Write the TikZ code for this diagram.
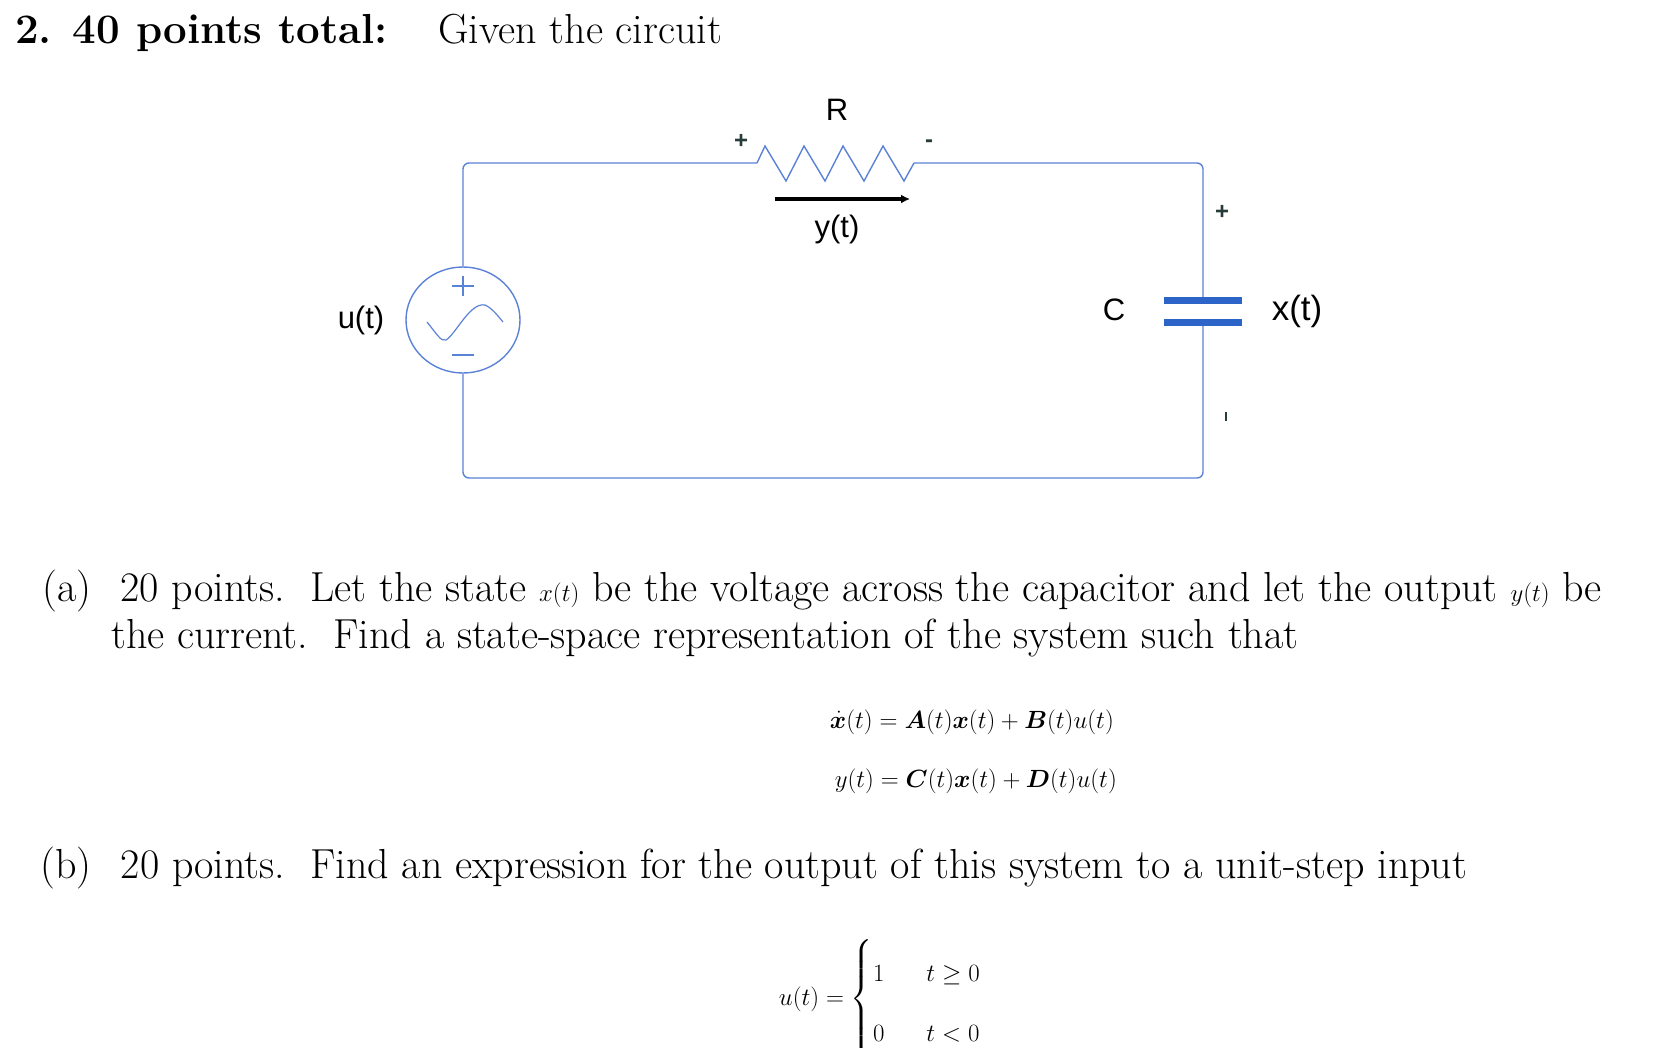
\documentclass[tikz,border=0pt]{standalone}
\usepackage{amsmath,bm}
\usepackage{fontspec}
\usetikzlibrary{shapes.geometric,arrows.meta}
\newfontfamily\arial{Liberation Sans}
\DeclareMathSizes{42}{42}{30}{22}
\definecolor{wire}{RGB}{90,130,215}
\definecolor{capc}{RGB}{45,100,200}
\definecolor{pm}{RGB}{40,60,60}
\begin{document}
\begin{tikzpicture}[x=1pt,y=-1pt,
  wirestyle/.style={draw=wire,line width=1.4pt},
  lbl/.style={font=\arial\fontsize{31}{36}\selectfont},
  pmlbl/.style={font=\arial\bfseries\fontsize{24}{28}\selectfont,text=pm},
  body/.style={anchor=base west,inner sep=0pt,font=\fontsize{42}{50}\selectfont}]
\useasboundingbox (0,0) rectangle (1667,1047);
% circuit
\coordinate (rl) at (757,163);
\coordinate (rr) at (914,163);
\coordinate (tl) at (463,163);
\coordinate (tr) at (1203,163);
\coordinate (bl) at (463,478);
\coordinate (br) at (1203,478);
\node[ellipse,draw=wire,line width=1.4pt,minimum width=114pt,minimum height=106pt,inner sep=0pt] (src) at (463,320) {};
\draw[wirestyle,rounded corners=6pt] (src.north) -- (tl) -- (rl);
\draw[wirestyle] (rl) -- (765,146) -- (786,181) -- (804,146) -- (825,181) -- (843,146) -- (864,181) -- (883,146) -- (904,181) -- (rr);
\coordinate (ct) at (1203,300);
\coordinate (cb) at (1203,322);
\draw[wirestyle,rounded corners=6pt] (rr) -- (tr) -- (ct);
\draw[wirestyle,rounded corners=6pt] (cb) -- (br) -- (bl) -- (src.south);
\draw[capc,line width=7pt] (1164,300) -- (1242,300);
\draw[capc,line width=7pt] (1164,322) -- (1242,322);
% source symbols
\draw[wire,line width=1.2pt] (452,286) -- (474,286) (463,276) -- (463,296);
\draw[wire,line width=1.2pt] (452,355) -- (474,355);
\draw[wire,line width=1.2pt] (427,322) .. controls (436,333) and (441,342) .. (446,340) .. controls (456,334) and (470,302) .. (485,305) .. controls (492,308) and (498,316) .. (503,322);
% current arrow
\coordinate (a1) at (775,199);
\coordinate (a2) at (910,199);
\draw[line width=3.5pt,-{Latex[length=9pt,width=9pt]}] (a1) -- (a2);
% labels
\node[lbl] (Rl) at (837,110) {R};
\node[lbl] (yl) at (837,229) {y(t)};
\node[lbl] (ul) at (361,320) {u(t)};
\node[lbl] (Cl) at (1114,310) {C};
\node[lbl,font=\arial\fontsize{35}{40}\selectfont] (xl) at (1297,311) {x(t)};
\node[pmlbl] (p1) at (741,141) {+};
\node[pmlbl] (m1) at (929,144) {-};
\node[pmlbl] (p2) at (1222,212) {+};
\node[pmlbl] (m2) at (1226,416) {\rule{2.5pt}{9pt}};
% text
\node[body] (title) at (15,43) {\textbf{2. 40 points total:}\hspace{0.8em} Given the circuit};
\node[body] (pa) at (42,601) {(a)\hspace{0.4em} 20 points.\ \ Let the state $x(t)$ be the voltage across the capacitor and let the output $y(t)$ be};
\node[body] (pa2) at (111,648) {the current.\ \ Find a state-space representation of the system such that};
\node[body,anchor=base east] (e1) at (1114,728) {$\dot{\bm x}(t) = \bm A(t)\bm x(t) + \bm B(t)u(t)$};
\node[body,anchor=base east] (e2) at (1117,787) {$y(t) = \bm C(t)\bm x(t) + \bm D(t)u(t)$};
\node[body] (pb) at (40,878) {(b)\hspace{0.4em} 20 points.\ \ Find an expression for the output of this system to a unit-step input};
\node[inner sep=0pt,font=\fontsize{42}{50}\selectfont] (cs) at (880,999) {$u(t) = \begin{cases} 1 & t \geq 0\\ 0 & t<0\end{cases}$};
\end{tikzpicture}
\end{document}
